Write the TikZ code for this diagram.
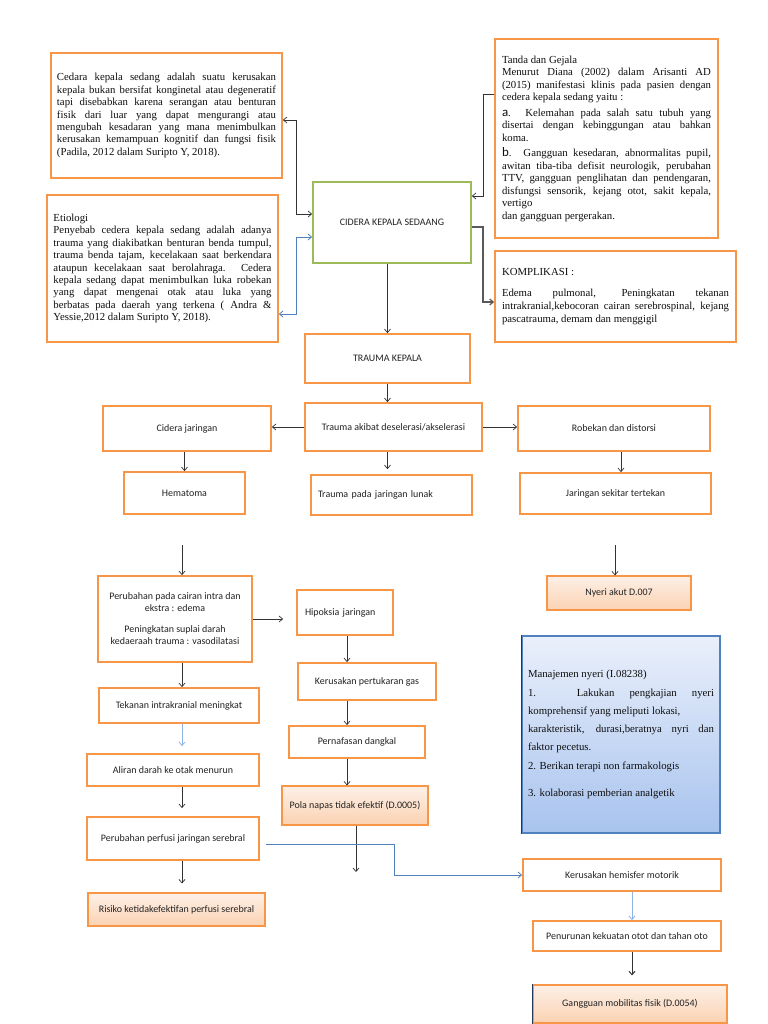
\documentclass[tikz,border=0pt]{standalone}
\usepackage{fontspec}
\setmainfont{Liberation Serif}
\newfontfamily\calib{Carlito}
\usetikzlibrary{arrows.meta,shadows}
\definecolor{orng}{RGB}{247,150,70}
\definecolor{grn}{RGB}{155,187,89}
\definecolor{bline}{RGB}{79,129,189}
\definecolor{lbline}{RGB}{141,179,226}
\definecolor{peachT}{RGB}{253,240,231}
\definecolor{peachB}{RGB}{251,210,178}
\definecolor{manT}{RGB}{234,240,251}
\definecolor{manB}{RGB}{168,195,238}
\definecolor{manE}{RGB}{79,129,189}
\definecolor{navy}{RGB}{35,55,95}
\definecolor{sgray}{RGB}{35,35,35}
\definecolor{txt}{RGB}{15,15,15}
\newcommand\J[1]{\makebox[\linewidth][s]{#1}}
\newcommand\serif{\rmfamily\fontsize{10.8}{12.5}\selectfont\color{txt}}
\newcommand\bigletter[1]{{\calib\fontsize{13}{12.5}\selectfont #1}}
\begin{document}
\begin{tikzpicture}[x=1bp,y=-1bp,
  >={Straight Barb[length=3.5bp,width=6bp]},
  obox/.style={draw=orng, line width=1.8bp, fill=white, inner sep=0pt, text=sgray,
    font=\calib\fontsize{10}{12}\selectfont},
  gbox/.style={obox, draw=grn},
  pbox/.style={obox, line width=1.1bp, top color=peachT, bottom color=peachB,
    drop shadow={opacity=0.18, shadow xshift=1.2bp, shadow yshift=-1.2bp}},
  arr/.style={draw=black!80, line width=0.7bp, ->},
  barr/.style={draw=bline, line width=0.8bp, ->},
  lbarr/.style={draw=lbline, line width=0.8bp, ->}]
\fill[white] (0,0) rectangle (768,1024);
\useasboundingbox (0,0) rectangle (768,1024);

% ---- top text boxes
\node[obox, minimum width=231bp, minimum height=125bp] (def) at (166.5,115.5) {\parbox{219bp}{\serif
\J{Cedara kepala sedang adalah suatu kerusakan}\\
\J{kepala bukan bersifat konginetal atau degeneratif}\\
\J{tapi disebabkan karena serangan atau benturan}\\
\J{fisik dari luar yang dapat mengurangi atau}\\
\J{mengubah kesadaran yang mana menimbulkan}\\
\J{kerusakan kemampuan kognitif dan fungsi fisik}\\
(Padila, 2012 dalam Suripto Y, 2018).}};

\node[obox, minimum width=231bp, minimum height=147bp] (etio) at (162.5,268.5) {\parbox{218bp}{\serif
Etiologi\\
\J{Penyebab cedera kepala sedang adalah adanya}\\
\J{trauma yang diakibatkan benturan benda tumpul,}\\
\J{trauma benda tajam, kecelakaan saat berkendara}\\
\J{ataupun kecelakaan saat berolahraga. Cedera}\\
\J{kepala sedang dapat menimbulkan luka robekan}\\
\J{yang dapat mengenai otak atau luka yang}\\
\J{berbatas pada daerah yang terkena ( Andra \&}\\
Yessie,2012 dalam Suripto Y, 2018).}};

\node[gbox, minimum width=158bp, minimum height=81bp] (cidera) at (392,222.5) {CIDERA KEPALA SEDAANG};

\node[obox, minimum width=223bp, minimum height=199bp] (tanda) at (606.5,138.5) {\parbox{209bp}{\serif
Tanda dan Gejala\\
\J{Menurut Diana (2002) dalam Arisanti AD}\\
\J{(2015) manifestasi klinis pada pasien dengan}\\
cedera kepala sedang yaitu :\\[3.5bp]
\J{\bigletter{a}. Kelemahan pada salah satu tubuh yang}\\
\J{disertai dengan kebinggungan atau bahkan}\\
koma.\\[3bp]
\J{\bigletter{b}. Gangguan kesedaran, abnormalitas pupil,}\\
\J{awitan tiba-tiba defisit neurologik, perubahan}\\
\J{TTV, gangguan penglihatan dan pendengaran,}\\
\J{disfungsi sensorik, kejang otot, sakit kepala,}\\
vertigo\\
dan gangguan pergerakan.}};

\node[obox, minimum width=241bp, minimum height=91bp] (kompl) at (615.5,296.5) {\parbox{227bp}{\rmfamily\fontsize{10.8}{13}\selectfont\color{txt}
KOMPLIKASI :\\[8bp]
\J{Edema pulmonal, Peningkatan tekanan}\\
\J{intrakranial,kebocoran cairan serebrospinal, kejang}\\
pascatrauma, demam dan menggigil}};

% ---- centre flow
\node[obox, minimum width=165bp, minimum height=49bp] (tk) at (387.5,358.5) {TRAUMA KEPALA};
\node[obox, minimum width=177bp, minimum height=48bp] (akibat) at (393.5,427) {Trauma akibat deselerasi/akselerasi};
\node[obox, minimum width=168bp, minimum height=45bp] (cj) at (187,428.5) {Cidera jaringan};
\node[obox, minimum width=192bp, minimum height=45bp] (rob) at (614,428.5) {Robekan dan distorsi};
\node[obox, minimum width=121bp, minimum height=42bp] (hem) at (184.5,493) {Hematoma};
\node[obox, minimum height=40bp, inner xsep=7bp, text width=147bp, align=left] (tpj) at (391.5,495) {Trauma pada jaringan lunak};
\node[obox, minimum width=191bp, minimum height=41bp] (jst) at (615.5,493.5) {Jaringan sekitar tertekan};

\node[obox, minimum width=154bp, minimum height=86bp, align=center] (pc) at (175,619)
  {Perubahan pada cairan intra dan\\ ekstra : edema\\[9bp] Peningkatan suplai darah\\ kedaeraah trauma : vasodilatasi};
\node[obox, minimum height=45bp, inner xsep=8bp, text width=80bp, align=left] (hip) at (345,612.5) {Hipoksia jaringan};
\node[obox, minimum width=138bp, minimum height=37bp] (kpg) at (367,681.5) {Kerusakan pertukaran gas};
\node[obox, minimum width=136bp, minimum height=32bp] (pd) at (357,742) {Pernafasan dangkal};
\node[pbox, minimum width=146bp, minimum height=39bp] (pola) at (355,805.5) {Pola napas tidak efektif (D.0005)};

\node[pbox, minimum width=144bp, minimum height=34bp] (nyeri) at (619,593) {Nyeri akut D.007};

\node[draw=manE, line width=1.1bp, top color=manT, bottom color=manB, inner sep=0pt,
  minimum width=198bp, minimum height=197bp,
  drop shadow={opacity=0.18, shadow xshift=1.2bp, shadow yshift=-1.2bp}] (man) at (621,734.5)
  {\parbox{186bp}{\rmfamily\fontsize{10.8}{18.3}\selectfont\color{txt}
Manajemen nyeri (I.08238)\\
\J{1. Lakukan pengkajian nyeri}\\
komprehensif yang meliputi lokasi,\\
\J{karakteristik, durasi,beratnya nyri dan}\\
faktor pecetus.\\
2. Berikan terapi non farmakologis\\[9bp]
3. kolaborasi pemberian analgetik}};
\draw[navy, line width=1.6bp] (man.north west) -- (man.south west);

% ---- left column
\node[obox, minimum width=160bp, minimum height=35bp] (tim) at (179,705.5) {Tekanan intrakranial meningkat};
\node[obox, minimum width=172bp, minimum height=32bp] (adm) at (173,770) {Aliran darah ke otak menurun};
\node[obox, minimum width=172bp, minimum height=43bp] (ppj) at (173,838.5) {Perubahan perfusi jaringan serebral};
\node[pbox, minimum width=177bp, minimum height=33bp] (risk) at (176.5,909.5) {Risiko ketidakefektifan perfusi serebral};

% ---- right bottom
\node[obox, minimum width=198bp, minimum height=32bp] (khm) at (622,875) {Kerusakan hemisfer motorik};
\node[obox, minimum width=188bp, minimum height=30bp] (pko) at (627,936) {Penurunan kekuatan otot dan tahan oto};
\node[pbox, minimum width=194bp, minimum height=38bp] (gmf) at (630,1004) {Gangguan mobilitas fisik (D.0054)};
\draw[navy, line width=1.4bp] (gmf.north west) -- (gmf.south west);

% ---- connectors
\coordinate (j1) at (296,120);
\coordinate (j2) at (296,214);
\draw[arr,<->] (def.east |- j1) -- (j1) -- (j2) -- (cidera.west |- j2);
\coordinate (b1) at (296,314);
\coordinate (b2) at (296,237);
\draw[barr,<->] (etio.east |- b1) -- (b1) -- (b2) -- (cidera.west |- b2);
\coordinate (t1) at (483,94);
\coordinate (t2) at (483,196);
\draw[arr] (tanda.west |- t1) -- (t1) -- (t2) -- (cidera.east |- t2);
\coordinate (k1) at (483,227);
\coordinate (k2) at (483,302);
\draw[arr, draw=black!65, line width=1.2bp] (cidera.east |- k1) -- (k1) -- (k2) -- (kompl.west |- k2);

\draw[arr] (tk.north |- cidera.south) -- (tk.north);
\draw[arr] (tk.south) -- (tk.south |- akibat.north);
\draw[arr] (akibat.west) -- (akibat.west -| cj.east);
\draw[arr] (akibat.east) -- (akibat.east -| rob.west);
\draw[arr, shorten >=5bp] (akibat.south -| tk.south) -- (tk.south |- tpj.north);
\draw[arr] (hem.north |- cj.south) -- (hem.north);
\coordinate (r1) at (621,0);
\draw[arr] (rob.south -| r1) -- (jst.north -| r1);

\coordinate (f1) at (182,545);
\draw[arr] (f1) -- (f1 |- pc.north);
\draw[arr, shorten >=13bp] (pc.east) -- (pc.east -| hip.west);
\coordinate (v1) at (347,0);
\draw[arr] (hip.south -| v1) -- (kpg.north -| v1);
\draw[arr] (kpg.south -| v1) -- (pd.north -| v1);
\draw[arr] (pd.south -| v1) -- (pola.north -| v1);
\coordinate (f4) at (356,872);
\draw[arr] (pola.south -| f4) -- (f4);
\coordinate (f3) at (615,545);
\draw[arr] (f3) -- (f3 |- nyeri.north);

\coordinate (v2) at (182,0);
\draw[arr] (pc.south -| v2) -- (tim.north -| v2);
\draw[lbarr, shorten >=7bp] (tim.south -| v2) -- (adm.north -| v2);
\draw[arr, shorten >=8bp] (adm.south -| v2) -- (ppj.north -| v2);
\draw[arr, shorten >=9bp] (ppj.south -| v2) -- (risk.north -| v2);
\coordinate (bl) at (394,844);
\draw[barr, shorten <=6bp] (ppj.east |- bl) -- (bl) |- (khm.west);
\coordinate (v3) at (632,0);
\draw[lbarr] (khm.south -| v3) -- (pko.north -| v3);
\draw[arr, line width=1bp, shorten >=9bp] (pko.south -| v3) -- (gmf.north -| v3);
\end{tikzpicture}
\end{document}
